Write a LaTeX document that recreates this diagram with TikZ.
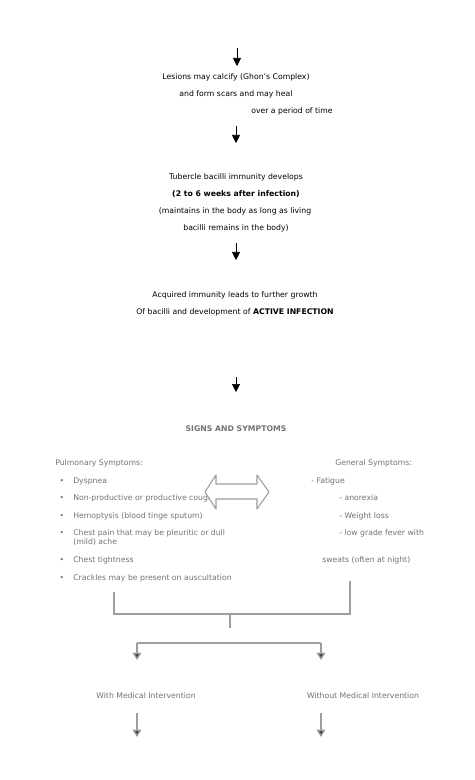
\documentclass[tikz,border=0pt]{standalone}
\usepackage{fontspec}
\setmainfont{DejaVu Sans}
\usetikzlibrary{arrows.meta}
\definecolor{blurtext}{gray}{0.45}
\definecolor{blurline}{gray}{0.62}
\tikzset{
  txt/.style={inner sep=0pt, font=\fontsize{5.8}{7}\selectfont, text=black},
  gtxt/.style={inner sep=0pt, font=\fontsize{5.8}{7}\selectfont, text=blurtext},
  flow/.style={draw=black, line width=0.5pt, -{Triangle[length=6pt,width=6pt]}},
  gflow/.style={draw=blurline, line width=0.9pt, -{Triangle[length=5.5pt,width=6.5pt,fill=black!72]}},
  bracket/.style={draw=blurline, line width=1.1pt},
}
\begin{document}
\begin{tikzpicture}[x=0.75pt, y=-0.75pt]
\useasboundingbox[fill=white] (0,0) rectangle (474,780);

% upper flow
\coordinate (a1s) at (237,48); \coordinate (a1e) at (237,66);
\draw[flow] (a1s) -- (a1e);
\node[txt] (l1) at (236,77) {Lesions may calcify (Ghon’s Complex)};
\node[txt] (l2) at (236,94) {and form scars and may heal};
\node[txt, anchor=west] (l3) at (251,111) {over a period of time};
\coordinate (a2s) at (236,126); \coordinate (a2e) at (236,143);
\draw[flow] (a2s) -- (a2e);
\node[txt] (t1) at (236,177) {Tubercle bacilli immunity develops};
\node[txt, font=\fontsize{5.8}{7}\selectfont\bfseries] (t2) at (236,194) {(2 to 6 weeks after infection)};
\node[txt] (t3) at (235,211) {(maintains in the body as long as living};
\node[txt] (t4) at (236,228) {bacilli remains in the body)};
\coordinate (a3s) at (236,243); \coordinate (a3e) at (236,260);
\draw[flow] (a3s) -- (a3e);
\node[txt] (q1) at (235,295) {Acquired immunity leads to further growth};
\node[txt] (q2) at (235,312) {Of bacilli and development of \textbf{ACTIVE INFECTION}};
\coordinate (a4s) at (236,377); \coordinate (a4e) at (236,392);
\draw[flow] (a4s) -- (a4e);

% signs and symptoms (faded part)
\node[gtxt, font=\fontsize{5.8}{7}\selectfont\bfseries] (ss) at (236,429) {SIGNS AND SYMPTOMS};
\node[gtxt, anchor=west] (ph) at (55,463) {Pulmonary Symptoms:};
\node[gtxt, anchor=west] (gh) at (335,463) {General Symptoms:};
\foreach \y/\t/\n in {481/Dyspnea/p1, 498/Non-productive or productive cough/p2, 516/Hemoptysis (blood tinge sputum)/p3, 533/Chest pain that may be pleuritic or dull/p4, 560/Chest tightness/p6, 578/Crackles may be present on auscultation/p7}{
  \node[gtxt, anchor=west] (\n) at (73,\y) {\t};
  \node[gtxt] (\n b) at (62,\y) {•};
}
\node[gtxt, anchor=west] (p5) at (73,542) {(mild) ache};
\node[gtxt, anchor=west] (g1) at (311,481) {- Fatigue};
\node[gtxt, anchor=west] (g2) at (339,498) {- anorexia};
\node[gtxt, anchor=west] (g3) at (339,516) {- Weight loss};
\node[gtxt, anchor=west] (g4) at (339,533) {- low grade fever with};
\node[gtxt, anchor=west] (g5) at (322,560) {sweats (often at night)};

% double block arrow
\draw[draw=blurline, fill=white, line width=0.8pt, line join=round]
  (205,492) -- (216,475) -- (216,484) -- (257,484) -- (257,475) -- (269,492)
  -- (257,509) -- (257,499) -- (216,499) -- (216,509) -- cycle;

% brackets
\coordinate (bl) at (114,592); \coordinate (br) at (350,581);
\coordinate (bm) at (230,614); \coordinate (bt) at (230,628);
\draw[bracket] (bl) |- (bm) -| (br);
\draw[bracket] (bm) -- (bt);
\coordinate (cl) at (137,643); \coordinate (cr) at (321,643);
\coordinate (cle) at (137,660); \coordinate (cre) at (321,660);
\draw[bracket] (cl) -- (cr);
\draw[gflow] (cl) -- (cle);
\draw[gflow] (cr) -- (cre);

\node[gtxt] (w1) at (146,696) {With Medical Intervention};
\node[gtxt] (w2) at (363,696) {Without Medical Intervention};
\coordinate (d1s) at (137,713); \coordinate (d1e) at (137,737);
\coordinate (d2s) at (321,713); \coordinate (d2e) at (321,737);
\draw[gflow] (d1s) -- (d1e);
\draw[gflow] (d2s) -- (d2e);
\end{tikzpicture}
\end{document}
